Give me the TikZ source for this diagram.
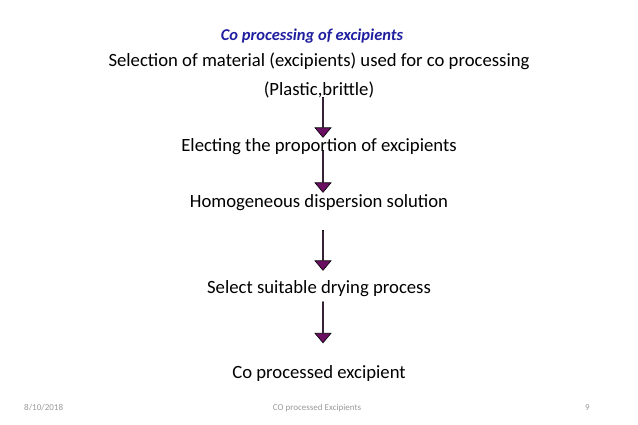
\documentclass[tikz,border=0pt]{standalone}
\usepackage{fontspec}
\setmainfont{Carlito}
\usetikzlibrary{shapes.arrows}
\definecolor{arrowfill}{HTML}{6A0F62}
\definecolor{titleblue}{HTML}{1F1FA0}
\tikzset{
  txt/.style={font=\fontsize{18.7}{22}\selectfont, inner sep=0pt, anchor=base},
  foot/.style={font=\fontsize{9}{11}\selectfont, text=gray!80, inner sep=0pt, anchor=base},
  bigarrow/.style={single arrow, draw=black, line width=0.6pt, fill=arrowfill, shape border rotate=270,
    minimum height=#1, single arrow head extend=4pt, single arrow head indent=0pt, minimum width=16pt, inner sep=0pt, single arrow tip angle=80}
}
\begin{document}
\begin{tikzpicture}[x=1pt,y=-1pt]
\useasboundingbox (0,0) rectangle (638,425);
\node[txt, font=\fontsize{16.5}{18}\selectfont\bfseries\itshape, text=titleblue] (title) at (312,41) {Co processing of excipients};
\node[txt] (t1) at (319,67) {Selection of material (excipients) used for co processing};
\node[txt] (t2) at (319,96) {(Plastic,brittle)};
\node[txt] (t3) at (319,152) {Electing the proportion of excipients};
\node[txt] (t4) at (319,208) {Homogeneous dispersion solution};
\node[txt] (t5) at (319,293) {Select suitable drying process};
\node[txt] (t6) at (319,378) {Co processed excipient};
\node[bigarrow=40pt] (a1) at (323,117) {};
\node[bigarrow=42pt] (a2) at (323,171) {};
\node[bigarrow=40pt] (a3) at (323,250) {};
\node[bigarrow=41pt] (a4) at (323,322) {};
\node[foot, anchor=base west] (d) at (24,410) {8/10/2018};
\node[foot] (f) at (317,410) {CO processed Excipients};
\node[foot, anchor=base east] (p) at (590,410) {9};
\end{tikzpicture}
\end{document}
